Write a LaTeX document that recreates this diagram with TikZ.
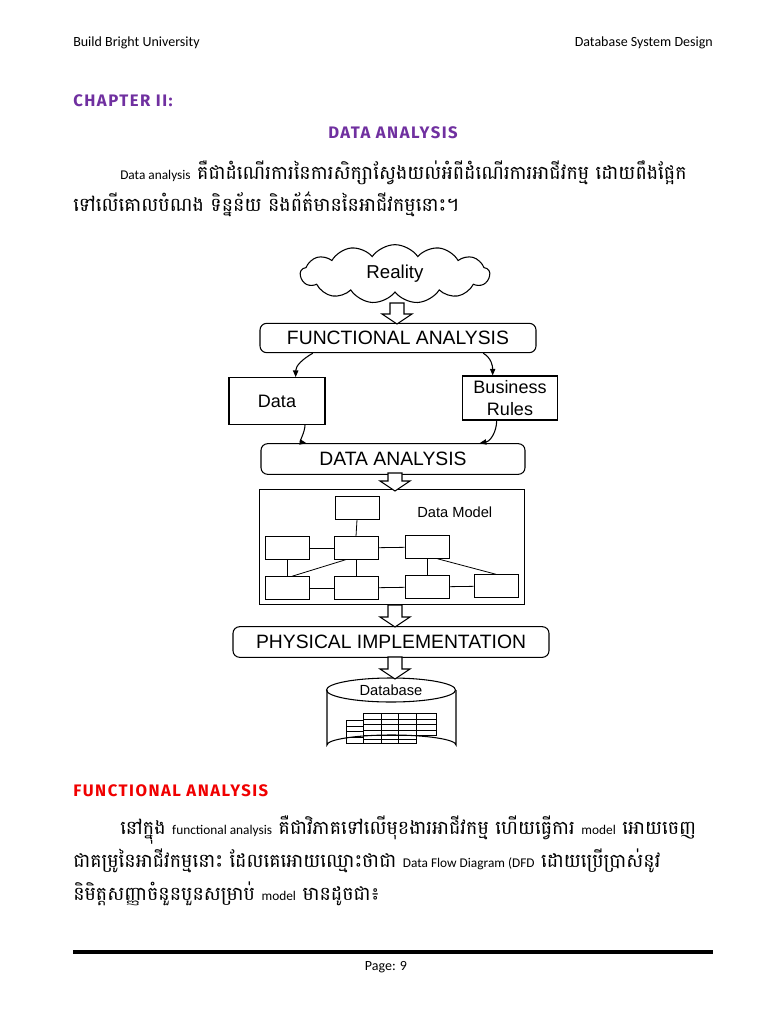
\documentclass[tikz,border=0pt]{standalone}
\usepackage{fontspec}
\setmainfont{Carlito}
\newfontfamily\khm[Script=Khmer]{Battambang}
\newfontfamily\dia{Liberation Sans}
\newfontfamily\head[LetterSpace=9]{Fira Sans}
\usetikzlibrary{shapes.symbols,arrows.meta,calc}
\definecolor{hpurple}{RGB}{112,48,160}
\definecolor{hred}{RGB}{240,0,0}
\begin{document}
\begin{tikzpicture}[x=0.75pt,y=-0.75pt,
  rbox/.style={draw,line width=0.8pt,rounded corners=5pt,font=\dia\fontsize{14.5}{14}\selectfont},
  sbox/.style={draw,line width=0.8pt,font=\dia\fontsize{13.5}{16}\selectfont,align=center},
  mbox/.style={draw,line width=0.6pt,minimum width=33pt,minimum height=17pt,inner sep=0pt},
  ktext/.style={anchor=base west,inner sep=0pt,font=\khm\fontsize{14.3}{16}\selectfont},
  curv/.style={line width=0.8pt,-{Triangle[length=5pt,width=4pt]}},
  ml/.style={line width=0.6pt}]
\useasboundingbox (0,0) rectangle (768,1024);
\fill[white] (0,0) rectangle (768,1024);
% header / footer
\node[anchor=base west,inner sep=0pt,font=\fontsize{10.5}{11}\selectfont] (h1) at (73,47) {Build Bright University};
\node[anchor=base east,inner sep=0pt,font=\fontsize{10.5}{11}\selectfont] (h2) at (713,47) {Database System Design};
\draw[line width=3pt] (73,952) -- (713,952);
\node[anchor=base,inner sep=0pt,font=\fontsize{10.5}{11}\selectfont] (pg) at (386,970) {Page: 9};
% headings
\node[anchor=base west,inner sep=0pt,text=hpurple,font=\head\bfseries\fontsize{12.5}{13}\selectfont] (ch) at (73,106) {CHAPTER II:};
\node[anchor=base,inner sep=0pt,text=hpurple,font=\head\bfseries\fontsize{12.5}{13}\selectfont] (da) at (393,138) {DATA ANALYSIS};
\node[anchor=base west,inner sep=0pt,text=hred,font=\head\bfseries\fontsize{12.5}{13}\selectfont] (fa) at (73,796) {FUNCTIONAL ANALYSIS};
% paragraphs
\node[ktext] (p1) at (120,179) {{\fontsize{10}{12}\selectfont\rmfamily Data analysis} គឺជាដំណើរការនៃការសិក្សាស្វែងយល់អំពីដំណើរការអាជីវកម្ម ដោយពឹងផ្អែក};
\node[ktext] (p2) at (73,211) {ទៅលើគោលបំណង ទិន្នន័យ និងព័ត៌មាននៃអាជីវកម្មនោះ។};
\node[ktext] (q1) at (120,834) {នៅក្នុង {\fontsize{10}{12}\selectfont\rmfamily functional analysis} គឺជាវិភាគទៅលើមុខងារអាជីវកម្ម ហើយធ្វើការ {\fontsize{10}{12}\selectfont\rmfamily model} អោយចេញ};
\node[ktext] (q2) at (73,867) {ជាគម្រូនៃអាជីវកម្មនោះ ដែលគេអោយឈ្មោះថាជា {\fontsize{10}{12}\selectfont\rmfamily Data Flow Diagram (DFD} ដោយប្រើប្រាស់នូវ};
\node[ktext] (q3) at (73,900) {និមិត្តសញ្ញាចំនួនបួនសម្រាប់ {\fontsize{10}{12}\selectfont\rmfamily model} មានដូចជា៖};
% diagram
\node[cloud,cloud puffs=13,cloud puff arc=110,aspect=3.2,draw,line width=0.8pt,minimum width=142pt,minimum height=44pt,font=\dia\fontsize{14}{14}\selectfont] (real) at (395,274) {Reality};
\node[rbox,minimum width=207pt,minimum height=22pt] (fan) at (398,338) {FUNCTIONAL ANALYSIS};
\node[sbox,minimum width=72pt,minimum height=35pt] (data) at (277,401) {Data};
\node[sbox,minimum width=71pt,minimum height=33pt,inner sep=1pt] (br) at (510,398) {Business\\Rules};
\node[rbox,minimum width=198pt,minimum height=23pt] (dan) at (393,459) {DATA ANALYSIS};
\node[draw,line width=0.8pt,minimum width=199pt,minimum height=86pt] (dm) at (392,547) {};
\node[anchor=west,inner sep=0pt,font=\dia\fontsize{11}{12}\selectfont] (dml) at (417,512) {Data Model};
\node[mbox] (m0) at (357,508) {};
\node[mbox] (a1) at (287,548) {};
\node[mbox] (a2) at (356,548) {};
\node[mbox] (a3) at (427,547) {};
\node[mbox] (b1) at (287,588) {};
\node[mbox] (b2) at (356,588) {};
\node[mbox] (b3) at (427,587) {};
\node[mbox] (b4) at (496,586) {};
\draw[ml] (m0.south) -- (a2.north);
\draw[ml] (a1) -- (a2); \draw[ml] (a2) -- (a3);
\draw[ml] (a1.south) -- (b1.north);
\draw[ml] (a2.south) -- (b2.north);
\draw[ml] (a3.south) -- (b3.north);
\draw[ml] ($(a2.south west)+(12,0)$) -- ($(b1.north)+(5,0)$);
\draw[ml] ($(a3.south east)+(-12,0)$) -- ($(b4.north)+(0,0)$);
\draw[ml] (b1) -- (b2); \draw[ml] (b2) -- (b3); \draw[ml] (b3) -- (b4);
\node[rbox,minimum width=237pt,minimum height=23pt] (phy) at (391,642) {PHYSICAL IMPLEMENTATION};
% database cylinder
\coordinate (dbt) at (391,690);
\draw[line width=0.8pt,fill=white] (327,690) -- (327,745) arc[start angle=180,end angle=360,x radius=64.5,y radius=10] -- (456,690);
\draw[line width=0.8pt] (dbt) ellipse[x radius=64.5,y radius=12];
\node[font=\dia\fontsize{11}{12}\selectfont,inner sep=0pt] (dbl) at (391,690) {Database};
\begin{scope}[line width=0.5pt]
\draw (363,713) rectangle (436,735);
\draw (346,720) rectangle (363,743);
\draw (363,735) rectangle (416,743);
\foreach \x in {381,398,416} \draw (\x,713) -- (\x,743);
\foreach \y in {719,724,730} \draw (363,\y) -- (436,\y);
\foreach \y in {726,731,737} \draw (346,\y) -- (363,\y);
\draw (363,739) -- (416,739);
\end{scope}
% hollow arrows
\newcommand\harrow[3]{\draw[line width=0.8pt,fill=white] (#1-7,#2) -- (#1+7,#2) -- (#1+7,#3-10) -- (#1+15,#3-10) -- (#1,#3) -- (#1-15,#3-10) -- (#1-7,#3-10) -- cycle;}
\harrow{397}{303}{324}
\harrow{395}{473}{491}
\harrow{395}{605}{627}
\harrow{395}{657}{679}
% curved arrows
\draw[curv] ([xshift=40pt]fan.south west) to[out=210,in=90] ([xshift=14pt]data.north);
\draw[curv] ([xshift=-40pt]fan.south east) to[out=-30,in=90] ([xshift=-13pt]br.north);
\draw[curv] ([xshift=21pt]data.south) to[out=-90,in=170] ([xshift=-65pt]dan.north);
\draw[curv] ([xshift=-10pt]br.south) to[out=-90,in=10] ([xshift=65pt]dan.north);
\end{tikzpicture}
\end{document}
